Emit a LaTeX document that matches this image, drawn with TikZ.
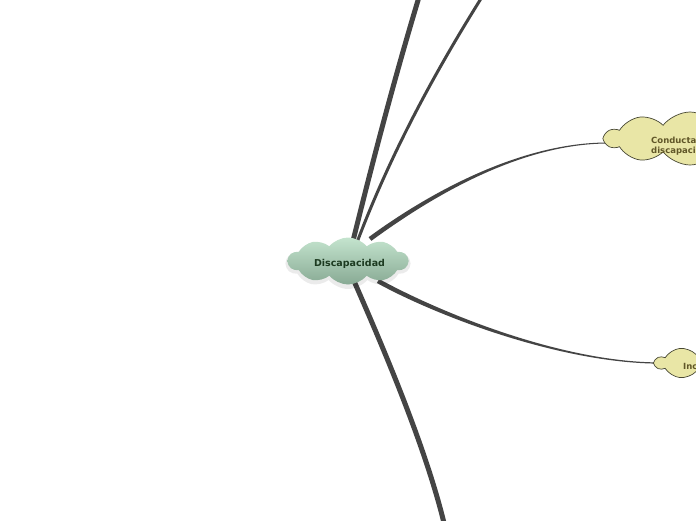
\documentclass[tikz,border=0pt]{standalone}
\usepackage{fontspec}
\setmainfont{DejaVu Sans}
\usetikzlibrary{shapes.symbols,backgrounds,calc}
\definecolor{branch}{RGB}{68,68,68}
\definecolor{maintop}{RGB}{196,228,206}
\definecolor{mainbot}{RGB}{136,170,148}
\definecolor{maintxt}{RGB}{28,58,32}
\definecolor{yfill}{RGB}{233,230,166}
\definecolor{yline}{RGB}{72,72,52}
\definecolor{ytxt}{RGB}{96,86,40}
\tikzset{
  maincloud/.style={cloud, cloud puffs=10, cloud puff arc=100, cloud ignores aspect,
    minimum width=120pt, minimum height=47pt, inner sep=0pt,
    shading=axis, top color=maintop, bottom color=mainbot, draw=none},
  shadowcloud/.style={cloud, cloud puffs=10, cloud puff arc=100, cloud ignores aspect,
    minimum width=124pt, minimum height=51pt, inner sep=0pt, fill=black, fill opacity=0.08, draw=none},
  maintext/.style={font=\bfseries\fontsize{9.5}{11}\selectfont, text=maintxt, inner sep=0pt},
  ycloud/.style={cloud, cloud puffs=10, cloud puff arc=105, cloud ignores aspect,
    inner sep=0pt, fill=yfill, draw=yline, line width=0.7pt},
  ytext/.style={font=\bfseries\fontsize{8.5}{10}\selectfont, text=ytxt, inner sep=0pt, anchor=base west},
  thickbranch/.style={draw=branch, line width=5pt},
  midbranch/.style={draw=branch, line width=3pt},
  taper/.style={fill=branch, draw=none}
}
\begin{document}
\begin{tikzpicture}[x=1pt,y=-1pt]
\useasboundingbox (0,0) rectangle (696,520);

% nodes
\node[shadowcloud] (cs) at (348,263.5) {};
\node[maincloud] (c) at (348,261) {};
\node[maintext] (ct) at ([shift={(1.5,3)}]c.center) {Discapacidad};

\node[ycloud, minimum width=170pt, minimum height=53pt] (y1) at (690,138.5) {};
\node[ytext] (t1a) at (651,143.5) {Conducta};
\node[ytext] (t1b) at (651,153) {discapaci};

\node[ycloud, minimum width=120pt, minimum height=36pt] (y2) at (715,363) {};
\node[ytext] (t2) at (683,369.5) {Inc};

\coordinate (topA) at (419,-3);
\coordinate (topB) at (482,-3);
\coordinate (botE) at (444,523);

\begin{scope}[on background layer]
% upward thick branch
\draw[thickbranch] ([shift={(4,-16)}]c.center) .. controls (373,160) and (394,80) .. (topA);
% upward medium branch
\draw[midbranch] ([shift={(8,-16)}]c.center) .. controls (388,160) and (430,80) .. (topB);
% tapered branch to Conducta cloud
\fill[taper] ([shift={(20.6,-23.8)}]c.center) .. controls (428.6,193.2) and (520,142.4) .. ([shift={(-82,4.0)}]y1.center)
  -- ([shift={(-82,5.0)}]y1.center) .. controls (520,143.6) and (431.4,196.8) .. ([shift={(23.4,-20.2)}]c.center) -- cycle;
% tapered branch to Inc cloud
\fill[taper] ([shift={(31.1,18)}]c.center) .. controls (441.1,313) and (560,361.4) .. ([shift={(-58,-0.6)}]y2.center)
  -- ([shift={(-58,0.6)}]y2.center) .. controls (560,362.6) and (438.9,317) .. ([shift={(28.9,22)}]c.center) -- cycle;
% downward thick branch
\draw[thickbranch] ([shift={(6,20)}]c.center) .. controls (382,345) and (425,445) .. (botE);
\end{scope}
\end{tikzpicture}
\end{document}
